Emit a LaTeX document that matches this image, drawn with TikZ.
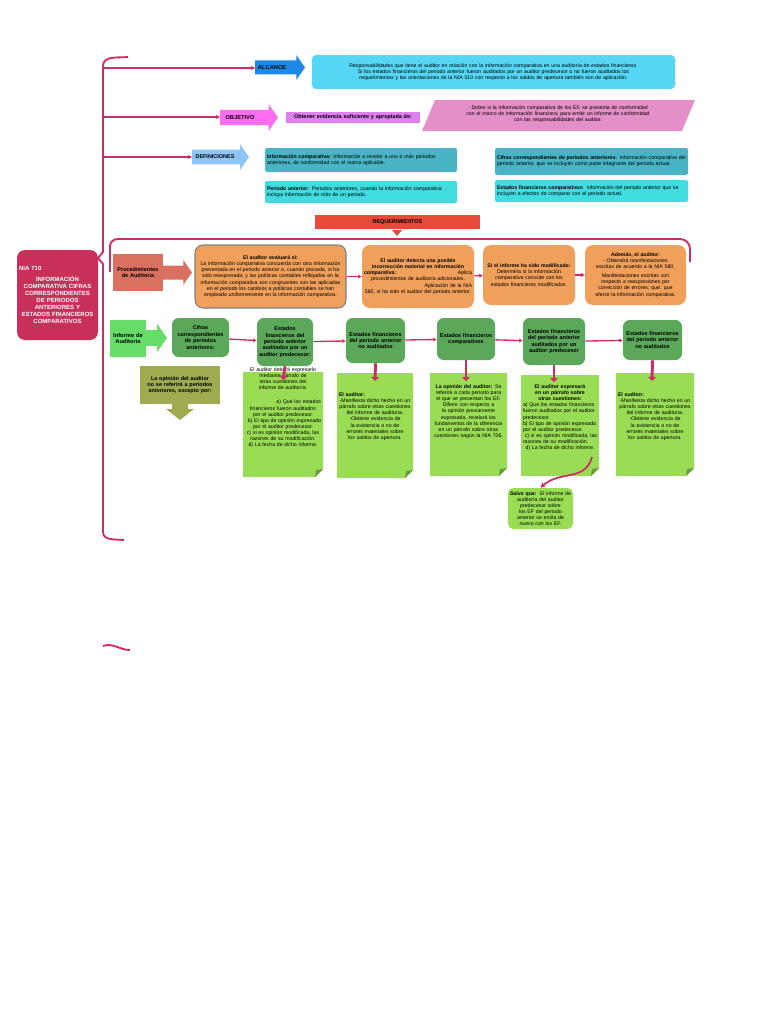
\documentclass[tikz,border=0pt]{standalone}
\usepackage{fontspec}
\setmainfont{Liberation Sans}
\usetikzlibrary{arrows.meta}
\hyphenpenalty=10000 \exhyphenpenalty=10000
\newdimen\pxu \pxu=0.75pt
\definecolor{brk}{HTML}{CC2E63}
\definecolor{nia}{HTML}{C8305A}
\definecolor{alc}{HTML}{1E88E5}
\definecolor{alcb}{HTML}{55D6F5}
\definecolor{obj}{HTML}{FF6EF0}
\definecolor{objb}{HTML}{E080F0}
\definecolor{objp}{HTML}{E58FC8}
\definecolor{defa}{HTML}{8EC5F5}
\definecolor{tealA}{HTML}{48B4C4}
\definecolor{tealB}{HTML}{40DCE0}
\definecolor{req}{HTML}{E84A3A}
\definecolor{proc}{HTML}{D97060}
\definecolor{ora}{HTML}{F0A05A}
\definecolor{inf}{HTML}{66DD66}
\definecolor{dg}{HTML}{5BA85B}
\definecolor{lg}{HTML}{99DD55}
\definecolor{olv}{HTML}{A0AA50}
\tikzset{
 txt/.style={font=\fontsize{3.9}{4.6}\selectfont, align=center, inner sep=1pt},
 bxs/.style={txt, rectangle, rounded corners=3pt},
 conn/.style={draw=brk, line width=1pt, -{Stealth[length=3pt,width=3pt]}},
 brkline/.style={draw=brk, line width=1.4pt},
 darr/.style={draw=brk, line width=2.2pt, -{Triangle[length=3pt,width=6pt]}},
}
\newcommand\B[7]{\pgfmathsetlengthmacro\tw{(#4-#2-4)*\pxu}\pgfmathsetlengthmacro\mw{(#4-#2)*\pxu}\pgfmathsetlengthmacro\mh{(#5-#3)*\pxu}%
\node[#6, minimum width=\mw, minimum height=\mh, text width=\tw] (#1) at ({(#2+#4)/2},{(#3+#5)/2}) {#7};}
% block arrow: x1 y1 x2 y2 color
\newcommand\BA[5]{\pgfmathsetmacro\ym{(#2+#4)/2}\pgfmathsetmacro\hx{#3-0.35*(#4-#2)}\pgfmathsetmacro\ta{#2+0.22*(#4-#2)}\pgfmathsetmacro\tb{#4-0.22*(#4-#2)}%
\fill[#5] (#1,\ta) -- (\hx,\ta) -- (\hx,#2) -- (#3,\ym) -- (\hx,#4) -- (\hx,\tb) -- (#1,\tb) -- cycle;}
% note: x1 y1 x2 y2 name textoffset text
\newcommand\N[7]{\pgfmathsetmacro\ea{#3-8}\pgfmathsetmacro\eb{#4-8}\fill[lg] (#1,#2) -- (#3,#2) -- (#3,\eb) -- (\ea,#4) -- (#1,#4) -- cycle;
\fill[lg!70!black] (#3,\eb) -- (\ea,#4) -- (\ea+1,\eb+1) -- cycle;
\pgfmathsetlengthmacro\tw{(#3-#1-4)*\pxu}%
\node[txt, text width=\tw, anchor=north] (#5) at ({(#1+#3)/2},#2+#6) {#7};}
\begin{document}
\begin{tikzpicture}[x=0.75pt,y=-0.75pt]
\useasboundingbox (0,0) rectangle (768,1024);
% main bracket
\draw[brkline] (128,57) to[out=185,in=90] (103,66) -- (103,252) -- (98,258) -- (103,264) -- (103,532) to[out=-90,in=175] (124,540);
\draw[brkline] (103,646) to[out=20,in=180] (130,650);
\B{nia}{17}{250}{98}{340}{bxs, fill=nia, rounded corners=6pt, text=white, font=\fontsize{4.5}{5.2}\selectfont\bfseries}{\raggedright NIA 710\par\vspace{3pt}\centering INFORMACIÓN COMPARATIVA CIFRAS CORRESPONDIENTES DE PERIODOS ANTERIORES Y ESTADOS FINANCIEROS COMPARATIVOS}
% ALCANCE
\BA{255}{55}{305}{80}{alc}
\node[txt,font=\fontsize{4.3}{5}\selectfont\bfseries] (alc) at (272,67.5) {ALCANCE};
\coordinate (b1) at (103,68);
\draw[conn] (b1) -- (255,68);
\B{alct}{312}{55}{675}{89}{bxs, fill=alcb}{Responsabilidades que tiene el auditor en relación con la información comparativa en una auditoría de estados financieros.\\ Si los estados financieros del periodo anterior fueron auditados por un auditor predecesor o no fueron auditados los\\ requerimientos y las orientaciones de la NIA 510  con respecto a los saldos de apertura también son de aplicación.}
% OBJETIVO
\BA{220}{104}{278}{131}{obj}
\node[txt,font=\fontsize{4.3}{5}\selectfont\bfseries] (obj) at (240,117.5) {OBJETIVO};
\coordinate (b2) at (103,117);
\draw[conn] (b2) -- (220,117);
\B{objt}{286}{112}{420}{123}{txt, fill=objb, font=\fontsize{4.1}{5}\selectfont\bfseries}{Obtener evidencia suficiente y apropiada de:}
\fill[objp] (435,100) -- (695,100) -- (682,131) -- (422,131) -- cycle;
\node[txt, text width=240\pxu] (objp) at (558,114) {- Sobre si la información comparativa de los EF, se presenta de conformidad\\ con el marco de información financiera; para  emitir un informe de conformidad\\ con las responsabilidades del auditor.};
% DEFINICIONES
\BA{192}{144}{249}{170}{defa}
\node[txt,font=\fontsize{4.1}{5}\selectfont\bfseries] (def) at (215,157) {DEFINICIONES};
\coordinate (b3) at (103,157);
\draw[conn] (b3) -- (192,157);
\B{d1}{265}{148}{457}{172}{bxs, fill=tealA, align=left, rounded corners=1.5pt}{\textbf{Información comparativa:} Información a revelar a uno o más periodos anteriores, de conformidad con el marco aplicable.}
\B{d2}{265}{181}{457}{203}{bxs, fill=tealB, align=left, rounded corners=1.5pt}{\textbf{Periodo anterior:}  Periodos anteriores, cuando la información comparativa incluya información de más de un periodo.}
\B{d3}{495}{148}{688}{175}{bxs, fill=tealA, align=left, rounded corners=1.5pt}{\textbf{Cifras correspondientes de periodos anteriores:} Información comparativa del periodo anterior, que se incluyen como parte integrante del periodo actual.}
\B{d4}{495}{180}{688}{202}{bxs, fill=tealB, align=left, rounded corners=1.5pt}{ \textbf{Estados financieros comparativos:}  Información del periodo anterior que se incluyen a efectos de comparar con el periodo actual.}
% REQUERIMIENTOS
\B{req}{315}{215}{480}{229}{txt, fill=req, font=\fontsize{4.1}{5}\selectfont\bfseries}{REQUERIMIENTOS}
\fill[req] (392,230) -- (402,230) -- (397,236) -- cycle;
% inner bracket
\draw[brkline] (110,272) -- (110,246) to[out=90,in=180] (118,239) -- (680,239) to[out=0,in=90] (690,249) -- (690,262);
% Procedimientos
\B{proc}{113}{254}{163}{291}{txt, fill=proc, font=\fontsize{4.1}{5}\selectfont\bfseries}{Procedimientos de Auditoria}
\BA{163}{260}{192}{285}{proc}
\B{o1}{195}{245}{346}{308}{bxs, fill=ora, draw=gray, line width=0.8pt, rounded corners=6pt}{\textbf{El auditor evaluará si:}\\ La información comparativa concuerda con otra información presentada en el periodo anterior o, cuando proceda, si ha sido reexpresada; y las políticas contables reflejadas en la información comparativa son congruentes con las aplicadas en el periodo los cambios a políticas contables se han empleado uniformemente en la información comparativa.}
\B{o2}{362}{245}{474}{308}{bxs, fill=ora, rounded corners=6pt}{\textbf{El auditor detecta una posible incorrección material en información comparativa:} \hfill Aplica procedimientos de auditoría adicionales.\\ \hfill Aplicación de la NIA 560, si ha sido el auditor del periodo anterior.}
\B{o3}{483}{245}{575}{305}{bxs, fill=ora, rounded corners=6pt}{\textbf{Si el informe ha sido modificado:}\\ Determina si la información comparativa coincide con los estados financieros modificados.}
\B{o4}{585}{245}{686}{305}{bxs, fill=ora, rounded corners=6pt}{\textbf{Además, el auditor:}\\ - Obtendrá manifestaciones escritas de acuerdo a la NIA 580.\\[2pt] Manifestaciones escritas con respecto a reexpresiones por corrección de errores; que:  que afecte la información comparativa.}
\draw[conn] (o1) -- (o2);
\draw[conn] (o2) -- (o3);
\draw[conn] (o3) -- (o4);
% Informe
\B{inf}{110}{320}{146}{357}{txt, fill=inf, font=\fontsize{4.3}{5}\selectfont\bfseries}{Informe de Auditoria}
\BA{146}{324}{167}{352}{inf}
\tikzset{gbx/.style={bxs, fill=dg, rounded corners=5pt, font=\fontsize{4.1}{4.8}\selectfont\bfseries}}
\B{g1}{172}{318}{229}{357}{gbx}{Cifras correspondientes de periodos anteriores:}
\B{g2}{257}{318}{313}{366}{gbx}{Estados financieros del periodo anterior auditados por un auditor predecesor:}
\B{g3}{346}{318}{405}{363}{gbx}{Estados financieros del periodo anterior no auditados}
\B{g4}{437}{318}{495}{360}{gbx}{Estados financieros comparativos}
\B{g5}{523}{318}{585}{365}{gbx}{Estados financieros del periodo anterior auditados por un auditor predecesor}
\B{g6}{623}{320}{682}{360}{gbx}{Estados financieros del periodo  anterior no auditados}
\draw[conn] (g1) -- (g2);
\draw[conn] (g2) -- (g3);
\draw[conn] (g3) -- (g4);
\draw[conn] (g4) -- (g5);
\draw[conn] (g5) -- (g6);
% olive
\B{olv}{140}{366}{220}{404}{txt, fill=olv, font=\fontsize{4.1}{4.8}\selectfont\bfseries}{La opinión del auditor no se referirá a periodos anteriores, excepto por:}
\fill[olv] (172,404) -- (188,404) -- (188,409) -- (194,409) -- (180,420) -- (166,409) -- (172,409) -- cycle;
% notes
\N{243}{372}{323}{477}{n1}{-6}{El auditor deberá expresarlo mediante párrafo de otras cuestiones del informe de auditoría:\\[6pt] \hfill a) Que los estados financieros fueron auditados por el auditor predecesor.\\ \hfill b) El tipo de opinión expresado por el auditor predecesor.\\ c) si es opinión modificada, las razones de su modificación.\\ d) La fecha de dicho informe.}
\N{337}{373}{413}{478}{n2}{18}{\raggedright\textbf{El auditor:}\par\centering -Manifiesta dicho hecho en un párrafo sobre otras cuestiones del informe de auditoría.\\ -Obtiene evidencia de la existencia o no de errores materiales sobre los saldos de apertura.}
\N{430}{373}{507}{476}{n3}{10}{\textbf{La opinión del auditor:} Se referirá a cada periodo para el que se presentan los EF.\\ Difiere con respecto a la opinión previamente expresada, revelará los fundamentos de la diferencia en un párrafo sobre otras cuestiones según la NIA 706.}
\N{521}{375}{599}{476}{n4}{8}{\textbf{El auditor expresará en un párrafo sobre otras cuestiones:}\par\raggedright a) Que los estados financieros fueron auditados por el auditor predecesor.\\ b) El tipo de opinión expresado por el auditor predecesor.\\ \hfill c) si es opinión modificada, las razones de su modificación.\\ d) La fecha de dicho informe.}
\N{616}{373}{694}{476}{n5}{18}{\raggedright\textbf{El auditor:}\par\centering -Manifiesta dicho hecho en un párrafo sobre otras cuestiones del informe de auditoría.\\ -Obtiene evidencia de la existencia o no de errores materiales sobre los saldos de apertura.}
\draw[darr] (g2.south) -- (283,380);
\draw[darr] (g3.south) -- (375,381);
\draw[darr] (g4.south) -- (466,381);
\draw[darr] (g5.south) -- (554,382);
\draw[darr] (g6.south) -- (652,381);
% salvo que
\B{sq}{508}{488}{573}{529}{bxs, fill=lg, rounded corners=4pt}{\raggedright\textbf{Salvo que:}\hfill El informe de\par\centering auditoría del auditor predecesor sobre los EF del periodo anterior se emita de nuevo con los EF.}
\coordinate (cs) at (592,457);
\draw[draw=brk, line width=1.3pt, -{Stealth[length=4pt,width=4pt]}] (cs) .. controls (585,482) and (560,470) .. (sq.north);
\end{tikzpicture}
\end{document}
